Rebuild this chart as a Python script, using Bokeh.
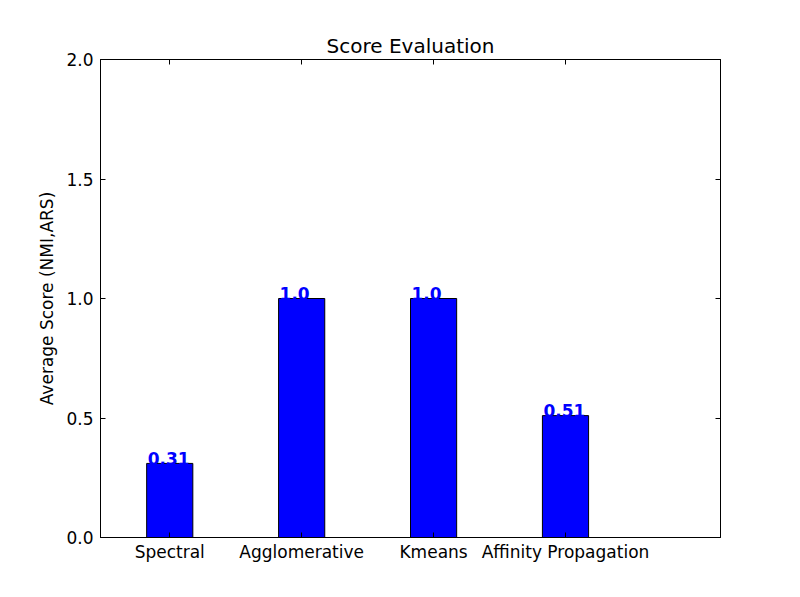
from bokeh.core.properties import value
from bokeh.embed import file_html
from bokeh.models import ColumnDataSource, FixedTicker, LinearAxis, PrintfTickFormatter, Range1d
from bokeh.plotting import figure
from bokeh.resources import INLINE

# scores per clustering method
methods = ["Spectral", "Agglomerative", "Kmeans", "Affinity Propagation"]
scores = [0.31, 1.0, 1.0, 0.51]
score_labels = ["0.31", "1.0", "1.0", "0.51"]
y_ticks = [0.0, 0.5, 1.0, 1.5, 2.0]

bar_width = 0.35
lefts = [float(i) for i in range(len(methods))]
centers = [x + bar_width / 2 for x in lefts]

src = ColumnDataSource(data=dict(x=centers, left=lefts, top=scores, label=score_labels))

FONT = "DejaVu Sans"

p = figure(width=792, height=589,
           x_range=Range1d(-0.35, 4.35), y_range=Range1d(0, 2),
           title="Score Evaluation",
           output_backend="svg", toolbar_location=None, tools="",
           min_border_left=100, min_border_right=72,
           min_border_top=59, min_border_bottom=52)

p.vbar(x="x", width=bar_width, top="top", bottom=0, source=src,
       fill_color="#0000ff", line_color="black", line_width=1)

p.text(x="left", y="top", text="label", source=src, x_offset=1, y_offset=-5,
       text_font=value(FONT), text_font_size="17px", text_font_style="bold",
       text_color="#0000ff", text_baseline="alphabetic", text_align="left")

# title
p.title.text_font = FONT
p.title.text_font_size = "20px"
p.title.text_font_style = "normal"
p.title.text_color = "black"
p.title.align = "center"
p.title.standoff = 3

p.xgrid.visible = False
p.ygrid.visible = False
p.outline_line_color = "black"
p.outline_line_width = 1
p.background_fill_color = "white"
p.border_fill_color = "white"

def style_axis(ax):
    ax.major_tick_in = 5
    ax.major_tick_out = 0
    ax.minor_tick_in = 0
    ax.minor_tick_out = 0
    ax.axis_line_color = "black"
    ax.major_tick_line_color = "black"
    ax.major_label_text_font = FONT
    ax.major_label_text_font_size = "17px"
    ax.major_label_text_color = "black"
    ax.axis_label_text_font = FONT
    ax.axis_label_text_font_size = "17px"
    ax.axis_label_text_font_style = "normal"
    ax.axis_label_text_color = "black"

style_axis(p.xaxis[0])
p.xaxis.ticker = FixedTicker(ticks=centers)
p.xaxis.major_label_overrides = {c: m for c, m in zip(centers, methods)}
p.xaxis.major_label_standoff = 4

style_axis(p.yaxis[0])
p.yaxis.ticker = FixedTicker(ticks=y_ticks)
p.yaxis.formatter = PrintfTickFormatter(format="%.1f")
p.yaxis.axis_label = "Average Score (NMI,ARS)"
p.yaxis.major_label_standoff = 7
p.yaxis.axis_label_standoff = 6

top_axis = LinearAxis(ticker=FixedTicker(ticks=centers), major_label_text_font_size="0px")
style_axis(top_axis)
top_axis.major_label_text_alpha = 0
p.add_layout(top_axis, "above")

right_axis = LinearAxis(ticker=FixedTicker(ticks=y_ticks), major_label_text_font_size="0px")
style_axis(right_axis)
right_axis.major_label_text_alpha = 0
p.add_layout(right_axis, "right")

open("out.html", "w").write(file_html(p, INLINE))
